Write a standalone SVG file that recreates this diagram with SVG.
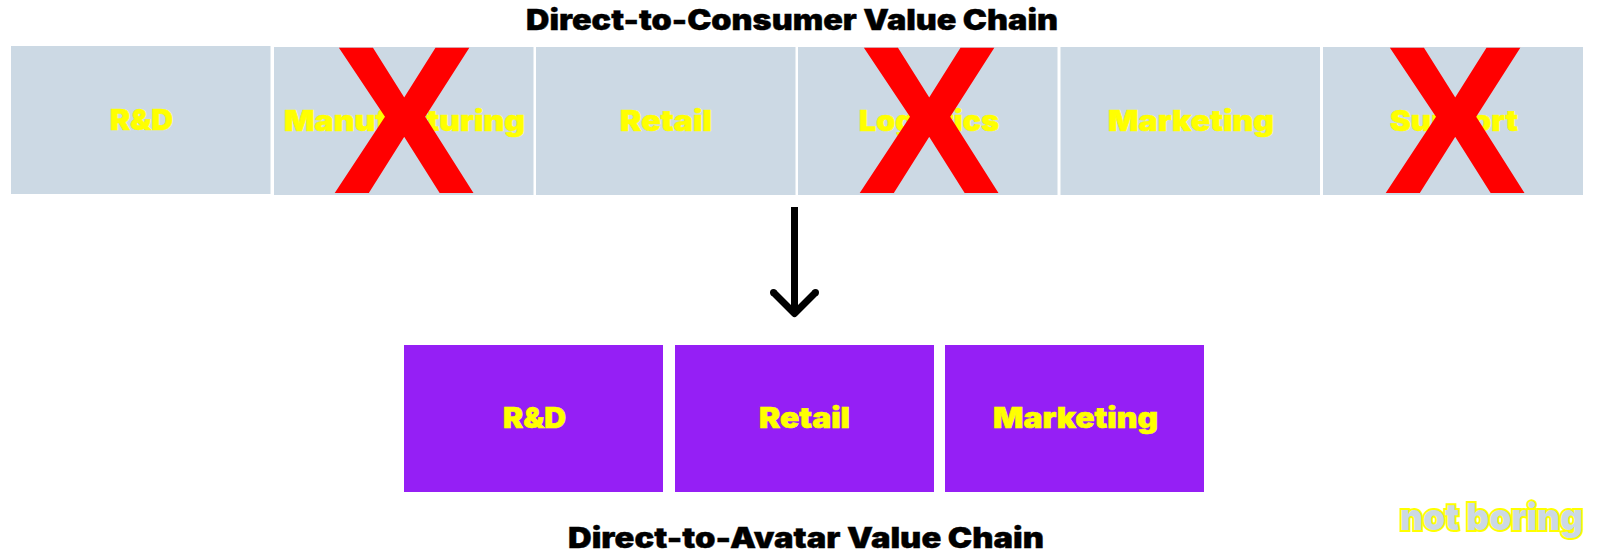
<svg xmlns="http://www.w3.org/2000/svg" width="1600" height="557" viewBox="0 0 1600 557">
<style>
text{font-family:Inter,"Liberation Sans",sans-serif;font-weight:900}
.t{font-size:28px;fill:#000;stroke:#000;stroke-width:.4px}
.l{font-size:28px;fill:#ffff00;stroke:#ffff00;stroke-width:.6px}
.a{fill:#ccd9e4}
.b{fill:#951ff5}
.x{font-family:"Liberation Sans",Arial,sans-serif;font-weight:700;font-size:208px;fill:#ff0000;stroke:#ff0000;stroke-width:2px}
.n{font-size:37px;fill:#ccd9e4;stroke:#ffff00;stroke-width:4px;paint-order:stroke fill}
</style>
<rect width="1600" height="557" fill="#fff"/>
<text class="t" x="526" y="30" textLength="532" lengthAdjust="spacingAndGlyphs">Direct-to-Consumer Value Chain</text>
<g id="top-rd"><rect class="a" x="11" y="46" width="259.5" height="148"/><text class="l" x="110" y="130" textLength="63" lengthAdjust="spacingAndGlyphs">R&amp;D</text></g>
<g id="top-manufacturing"><rect class="a" x="274" y="47" width="259.5" height="148"/><text class="l" x="284" y="131" textLength="241" lengthAdjust="spacingAndGlyphs">Manufacturing</text></g>
<g id="top-retail"><rect class="a" x="536" y="47" width="259.5" height="148"/><text class="l" x="620" y="131" textLength="92" lengthAdjust="spacingAndGlyphs">Retail</text></g>
<g id="top-logistics"><rect class="a" x="798" y="47" width="259.5" height="148"/><text class="l" x="859" y="131" textLength="140" lengthAdjust="spacingAndGlyphs">Logistics</text></g>
<g id="top-marketing"><rect class="a" x="1060.5" y="47" width="259.5" height="148"/><text class="l" x="1108" y="131" textLength="166" lengthAdjust="spacingAndGlyphs">Marketing</text></g>
<g id="top-support"><rect class="a" x="1323" y="47" width="260" height="148"/><text class="l" x="1390" y="131" textLength="128" lengthAdjust="spacingAndGlyphs">Support</text></g>
<text class="x" x="404" y="192" text-anchor="middle">X</text>
<text class="x" x="929" y="192" text-anchor="middle">X</text>
<text class="x" x="1455" y="192" text-anchor="middle">X</text>
<g id="connectors"><path d="M794.5 207V313.5M773.5 292.5L794.5 313.5L815.5 292.5" fill="none" stroke="#000" stroke-width="7" stroke-linejoin="round"/><path d="M773.5 292.5l0 0M815.5 292.5l0 0" stroke="#000" stroke-width="7" stroke-linecap="round"/></g>
<g id="bottom-rd"><rect class="b" x="404" y="345" width="259" height="147"/><text class="l" x="503" y="428" textLength="63" lengthAdjust="spacingAndGlyphs">R&amp;D</text></g>
<g id="bottom-retail"><rect class="b" x="675" y="345" width="259" height="147"/><text class="l" x="759" y="428" textLength="91" lengthAdjust="spacingAndGlyphs">Retail</text></g>
<g id="bottom-marketing"><rect class="b" x="945" y="345" width="259" height="147"/><text class="l" x="993" y="428" textLength="165" lengthAdjust="spacingAndGlyphs">Marketing</text></g>
<text class="t" x="568" y="548" textLength="476" lengthAdjust="spacingAndGlyphs">Direct-to-Avatar Value Chain</text>
<text class="n" x="1400" y="530" textLength="183" lengthAdjust="spacingAndGlyphs">not boring</text>
</svg>
